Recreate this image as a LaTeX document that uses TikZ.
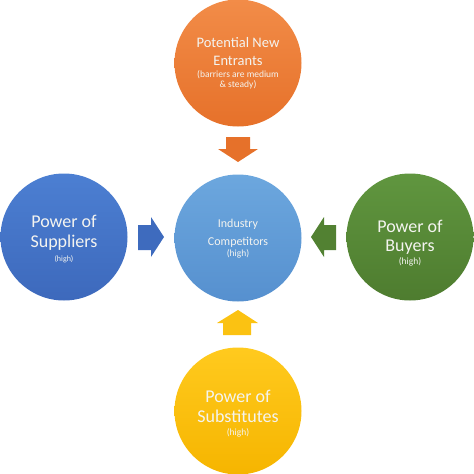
\documentclass[tikz,border=0pt]{standalone}
\usepackage{fontspec}
\setmainfont{Carlito}
\definecolor{orTop}{HTML}{F28C48}
\definecolor{orBot}{HTML}{E6712A}
\definecolor{blTop}{HTML}{4C7FD2}
\definecolor{blBot}{HTML}{3D69BC}
\definecolor{ceTop}{HTML}{6CA7DE}
\definecolor{ceBot}{HTML}{5690CF}
\definecolor{grTop}{HTML}{60963F}
\definecolor{grBot}{HTML}{4E7C2F}
\definecolor{yeTop}{HTML}{FFCA1E}
\definecolor{yeBot}{HTML}{F6B500}
\definecolor{txt}{HTML}{F4F4F0}
\begin{document}
\begin{tikzpicture}[x=1pt,y=-1pt,
  force/.style={circle,minimum size=127pt,inner sep=0pt},
  lbl/.style={anchor=base,inner sep=0pt,text=txt},
  big/.style={lbl,font=\fontsize{18}{20}\selectfont},
  mid/.style={lbl,font=\fontsize{14.5}{16}\selectfont},
  cen/.style={lbl,font=\fontsize{12}{14}\selectfont},
  small/.style={lbl,font=\fontsize{9.5}{11}\selectfont},
  tiny/.style={lbl,font=\fontsize{8}{9}\selectfont}]
\useasboundingbox (0,0) rectangle (474,474);
% circles
\node[force,top color=orTop,bottom color=orBot] (entrants) at (238,63) {};
\node[force,top color=blTop,bottom color=blBot] (suppliers) at (64,237) {};
\node[force,top color=ceTop,bottom color=ceBot] (industry) at (238,238) {};
\node[force,top color=grTop,bottom color=grBot] (buyers) at (410,237) {};
\node[force,top color=yeTop,bottom color=yeBot] (substitutes) at (238,411) {};
% block arrows
\fill[orBot] (226,137) -- (250,137) -- (250,149) -- (258,149) -- (238,162) -- (218,149) -- (226,149) -- cycle;
\fill[blBot!90!blTop] (138,225) -- (151,225) -- (151,217) -- (164,237) -- (151,257) -- (151,250) -- (138,250) -- cycle;
\fill[grBot!80!grTop] (336,225) -- (324,225) -- (324,217) -- (311,237) -- (324,257) -- (324,250) -- (336,250) -- cycle;
\fill[yeTop!60!yeBot] (223,335) -- (251,335) -- (251,323) -- (258,323) -- (238,310) -- (217,323) -- (223,323) -- cycle;
% texts
\node[mid] (e1) at (238,47.5) {Potential New};
\node[mid] (e2) at (238,65.5) {Entrants};
\node[small] (e3) at (238,77.5) {(barriers are medium};
\node[small] (e4) at (238,87) {\& steady)};
\node[big] (s1) at (64,227) {Power of};
\node[big] (s2) at (64,247) {Suppliers};
\node[tiny] (s3) at (64,261.5) {(high)};
\node[cen] (i1) at (238,227) {Industry};
\node[cen] (i2) at (238,245) {Competitors};
\node[small] (i3) at (238,256) {(high)};
\node[big] (b1) at (410,232) {Power of};
\node[big] (b2) at (410,251) {Buyers};
\node[small] (b3) at (410,264) {(high)};
\node[big] (u1) at (238,402) {Power of};
\node[big] (u2) at (238,422) {Substitutes};
\node[small] (u3) at (238,435) {(high)};
\end{tikzpicture}
\end{document}
